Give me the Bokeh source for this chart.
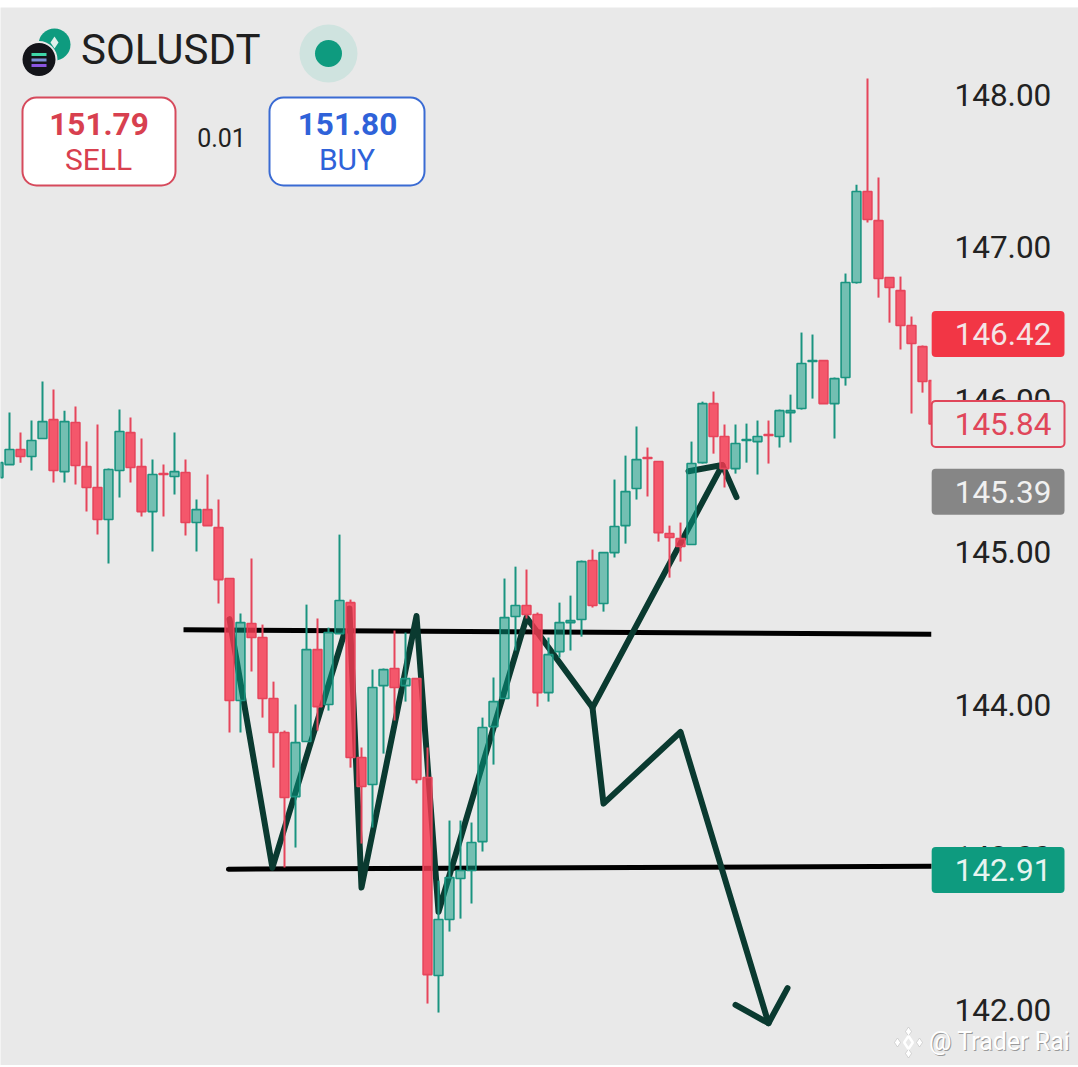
from bokeh.plotting import figure
from bokeh.models import FixedTicker, NumeralTickFormatter, Label, BoxAnnotation
from bokeh.embed import file_html
from bokeh.resources import INLINE

symbol = "SOLUSDT"
sell_price, buy_price, spread = "151.79", "151.80", "0.01"
y_ticks = [142, 143, 144, 145, 146, 147, 148]

# candle index -1 .. 84
opens = [145.488,145.573,145.672,145.626,145.744,145.868,145.527,145.849,145.560,145.423,145.213,145.534,145.783,145.560,145.265,
 145.514,145.495,145.521,145.193,145.278,145.160,144.826,144.026,144.531,144.439,144.039,143.816,143.396,143.757,144.360,144.000,
 144.465,144.668,143.652,143.475,144.124,144.236,144.124,144.170,143.521,142.223,142.590,142.859,142.911,143.101,143.855,144.039,
 144.577,144.649,144.590,144.078,144.347,144.537,144.557,144.944,144.662,144.996,145.173,145.416,145.619,145.593,145.121,145.088,
 145.049,145.586,145.973,145.757,145.547,145.731,145.724,145.770,145.757,145.914,145.941,146.249,146.255,145.973,146.144,146.767,
 147.364,147.173,146.800,146.714,146.485,146.347,146.124]
closes = [145.586,145.672,145.626,145.731,145.855,145.534,145.855,145.567,145.423,145.213,145.541,145.790,145.554,145.265,145.508,
 145.508,145.527,145.193,145.278,145.173,144.819,144.026,144.537,144.439,144.039,143.816,143.390,143.750,144.360,143.986,144.472,
 144.682,143.652,143.462,144.111,144.229,144.111,144.170,143.508,142.229,142.590,142.865,142.911,143.095,143.849,144.019,144.570,
 144.649,144.590,144.078,144.327,144.537,144.550,144.937,144.649,144.996,145.167,145.396,145.606,145.613,145.127,145.095,145.036,
 145.580,145.973,145.757,145.547,145.711,145.737,145.757,145.764,145.927,145.927,146.236,146.255,145.973,146.137,146.767,147.364,
 147.180,146.793,146.734,146.485,146.367,146.118,145.840]
highs = [145.632,145.914,145.783,145.862,146.118,146.065,145.927,145.954,145.724,145.836,145.547,145.934,145.882,145.744,145.606,
 145.573,145.783,145.606,145.344,145.508,145.344,144.826,144.596,144.957,144.524,144.150,143.829,144.000,144.655,144.564,144.504,
 145.114,144.688,143.718,144.229,144.236,144.485,144.472,144.170,143.718,142.845,143.239,143.239,143.226,143.914,144.177,144.826,
 144.904,144.885,144.603,144.439,144.668,144.714,144.944,145.016,144.996,145.475,145.632,145.823,145.685,145.593,145.173,145.193,
 145.724,145.986,146.052,145.836,145.836,145.842,145.862,145.862,145.934,146.032,146.439,146.426,146.255,146.144,146.826,147.409,
 148.105,147.455,146.800,146.806,146.544,146.354,146.124]
lows = [145.482,145.573,145.586,145.534,145.744,145.455,145.455,145.442,145.265,145.114,144.924,145.357,145.455,145.232,145.003,
 145.232,145.377,145.108,145.003,145.173,144.662,143.816,143.816,144.216,143.914,143.586,142.931,143.062,143.757,143.829,143.960,
 144.465,143.586,143.088,143.193,143.678,143.895,144.019,143.482,142.039,141.980,142.511,142.596,142.695,143.036,143.606,144.039,
 144.354,144.564,143.986,144.019,144.308,144.354,144.445,144.636,144.609,144.964,145.055,145.344,145.364,145.068,144.832,144.937,
 145.049,145.580,145.645,145.423,145.514,145.586,145.508,145.580,145.685,145.718,145.934,146.006,145.973,145.744,146.091,146.760,
 147.160,146.668,146.504,146.328,145.908,146.045,145.840]

# horizontal levels drawn on the chart: (index, price)
upper_x, upper_y = [15.82, 83.82], [144.49, 144.46]
lower_x, lower_y = [19.90, 83.82], [142.92, 142.94]
# hand-drawn pattern
zig1_x = [20, 23.9, 30.45]
zig1_y = [144.56, 142.93, 144.47]
zig2_x = [30.9, 32, 37, 39, 47, 53, 54, 61, 69]
zig2_y = [144.63, 142.80, 144.58, 142.64, 144.57, 143.98, 143.35, 143.82, 141.91]
head_x = [66, 69, 70.73]
head_y = [142.03, 141.91, 142.14]
branch_x = [53, 64.8, 61.73]
branch_y = [143.98, 145.57, 145.53]
tail_x = [64.8, 66.09]
tail_y = [145.57, 145.36]

# price tags on the right: price, text
tag_red = (146.43, "146.42")
tag_outline = (145.84, "145.84")
tag_grey = (145.395, "145.39")
tag_green = (142.915, "142.91")

BG = "#e9e9e9"
TOP_OFFSET = 7  # white strip above the chart
W, H = 1078, 1058
CHART_R = 931
PX_PER_BAR = 11.0
PX_PER_UNIT = 152.5

def X(px):
    return (px - 9) / PX_PER_BAR

def Y(py):
    return 148 - (py - 94) / PX_PER_UNIT

p = figure(width=W, height=H, output_backend="svg", toolbar_location=None,
           x_range=(X(0), X(W)), y_range=(Y(TOP_OFFSET + H), Y(TOP_OFFSET)),
           x_axis_location=None, y_axis_location="right",
           min_border_left=0, min_border_top=0, min_border_bottom=0, min_border_right=0,
           background_fill_color=BG, border_fill_color=BG, outline_line_color=None)
p.styles = {"margin-top": f"{TOP_OFFSET}px"}
p.grid.visible = False
ax = p.yaxis[0]
ax.ticker = FixedTicker(ticks=y_ticks)
ax.formatter = NumeralTickFormatter(format="0.00")
ax.axis_line_color = None
ax.major_tick_line_color = None
ax.minor_tick_line_color = None
ax.major_tick_in = 0
ax.major_tick_out = 0
ax.major_label_standoff = -124
ax.major_label_text_font = "Roboto"
ax.major_label_text_font_size = "31.5px"
ax.major_label_text_color = "#222222"

DARK = "#0a3a30"
p.line(upper_x, upper_y, line_color="#000000", line_width=5)
p.line(lower_x, lower_y, line_color="#000000", line_width=5, line_cap="round")
for xs, ys in [(zig1_x, zig1_y), (zig2_x, zig2_y), (head_x, head_y), (branch_x, branch_y), (tail_x, tail_y)]:
    p.line(xs, ys, line_color=DARK, line_width=6, line_join="round", line_cap="round")

idx = list(range(-1, 85))
up = [c >= o for o, c in zip(opens, closes)]
TEAL, RED = "#1a9480", "#e6455b"
wick_col = [TEAL if u else RED for u in up]
fill_col = ["#089981" if u else "#f7374f" for u in up]
alpha = [0.52 if u else 0.82 for u in up]
body_top = [max(o, c) for o, c in zip(opens, closes)]
body_bot = [min(o, c) for o, c in zip(opens, closes)]
p.segment(idx, body_top, idx, highs, line_color=wick_col, line_width=2)
p.segment(idx, lows, idx, body_bot, line_color=wick_col, line_width=2)
p.vbar(x=idx, width=0.8, bottom=opens, top=closes, fill_color=fill_col, fill_alpha=alpha,
       line_color=wick_col, line_width=1.6)
# the price scale panel hides whatever runs past the chart area
p.quad(left=[X(CHART_R)], right=[X(W)], bottom=[Y(TOP_OFFSET + H)], top=[Y(TOP_OFFSET)], fill_color=BG, line_color=None)

# header: status dot and coin logos
p.scatter([X(328)], [Y(53)], size=58, fill_color="#cfe3df", line_color=None)
p.scatter([X(328)], [Y(53)], size=27, fill_color="#0e9b7f", line_color=None)
p.scatter([X(54)], [Y(44)], size=32, fill_color="#0e9b7f", line_color=None)
p.scatter([X(54)], [Y(42)], size=12, marker="diamond", fill_color="#dff1ec", line_color=None)
p.scatter([X(38.5)], [Y(59)], size=37, fill_color=BG, line_color=None)
p.scatter([X(38.5)], [Y(59)], size=33, fill_color="#14151a", line_color=None)
for py, col in [(54, "#3fd6a8"), (59.5, "#7d8fd6"), (65, "#8a55e0")]:
    p.line([X(31), X(46)], [Y(py), Y(py)], line_color=col, line_width=3)

def txt(px, py, text, size, color, weight="normal", align="center", font="Roboto"):
    p.add_layout(Label(x=X(px), y=Y(py - 1), text=text, text_font=font, text_font_size=f"{size}px",
                       text_color=color, text_font_style=weight, text_align=align, text_baseline="middle"))

def button(x0, x1, y0, y1, line):
    p.add_layout(BoxAnnotation(left=X(x0), right=X(x1), top=Y(y0), bottom=Y(y1), fill_color="#ffffff",
                               fill_alpha=1, line_color=line, line_width=2, line_alpha=1, border_radius=14))

txt(80.5, 50, symbol, 42, "#1f1f1f", align="left")
button(22, 175, 97, 185, "#d64a5c")
button(269, 424, 97, 185, "#3a6bd3")
txt(98.5, 124, sell_price, 31.5, "#d8404f", weight="bold")
txt(98, 160, "SELL", 30, "#d8404f")
txt(221, 138, spread, 25, "#222222")
txt(347, 124, buy_price, 31.5, "#2f62d9", weight="bold")
txt(346.5, 160, "BUY", 30, "#2f62d9")

def tag(price_text, fill, line, color):
    price, text = price_text
    p.add_layout(Label(x=X(1064), y=price, text=text, text_font="Roboto", text_font_size="31.5px",
                       text_color=color, text_align="right", text_baseline="middle",
                       background_fill_color=fill, border_line_color=line, border_line_width=2 if line else 1,
                       padding=(23, 13, 12, 12), border_radius=4))

tag(tag_red, "#f23645", None, "#f4e4e6")
tag(tag_outline, BG, "#e0465a", "#e0465a")
tag(tag_grey, "#868686", None, "#f0f0f0")
tag(tag_green, "#0e9b7f", None, "#e6f4f0")

# watermark
for (dx, dy, s) in [(908, 1031, 9), (897, 1042, 9), (919, 1042, 9), (908, 1053, 9)]:
    p.scatter([X(dx)], [Y(dy)], size=s, marker="diamond", fill_color="#ffffff", line_color="#b5b5b5", line_width=0.5, level="overlay")
p.scatter([X(908)], [Y(1042)], size=13, marker="diamond", fill_color=None, line_color="#ffffff", line_width=2.5, level="overlay")
txt(929.5, 1042.5, "@ Trader Rai", 25, "#9a9a9a", align="left")
txt(928.5, 1041.5, "@ Trader Rai", 25, "#ffffff", align="left")

open("out.html", "w").write(file_html(p, INLINE))
